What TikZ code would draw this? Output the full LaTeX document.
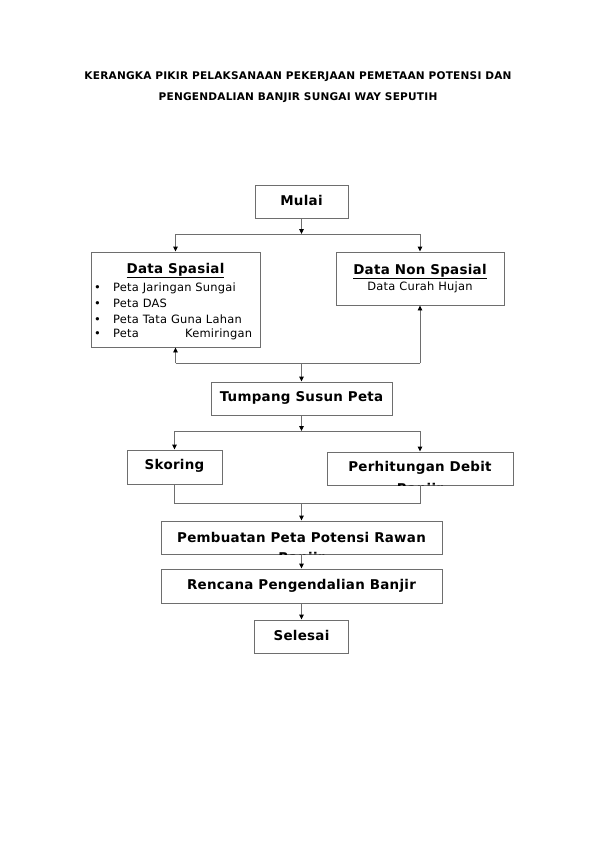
\documentclass[tikz,border=0pt]{standalone}
\usepackage{fontspec}
\setmainfont{DejaVu Sans}[LetterSpace=2]
\usetikzlibrary{arrows.meta}
\definecolor{ln}{RGB}{110,110,110}
\begin{document}
\begin{tikzpicture}[x=1bp,y=-1bp,
  box/.style={draw=ln, line width=0.9bp, inner sep=0pt, fill=white},
  conn/.style={draw=ln, line width=0.9bp},
  arr/.style={conn, -{Triangle[length=5bp,width=4.5bp,color=black]}},
  head/.style={font=\bfseries\fontsize{13.5}{15}\selectfont, inner sep=0pt},
  body/.style={font=\fontsize{11.5}{13}\selectfont, inner sep=0pt},
  ttl/.style={font=\bfseries\fontsize{10.6}{21}\selectfont, inner sep=0pt, align=center}]
\useasboundingbox (0,0) rectangle (595,842);
\fill[white] (0,0) rectangle (595,842);

\node[ttl] (title) at (298,87.5) {KERANGKA PIKIR PELAKSANAAN PEKERJAAN PEMETAAN POTENSI DAN\\PENGENDALIAN BANJIR SUNGAI WAY SEPUTIH};

% boxes
\node[box, minimum width=93bp, minimum height=33bp] (mulai) at (301.5,201.5) {};
\node[head] (tmulai) at (301.5,200) {Mulai};

\node[box, minimum width=169bp, minimum height=95bp] (spasial) at (175.5,299.5) {};
\node[head] (tspasial) at (175.5,270.5) {\underline{Data Spasial}};
\node[body, anchor=west] (s1) at (94,288) {\makebox[19bp][l]{•}Peta Jaringan Sungai};
\node[body, anchor=west] (s2) at (94,303) {\makebox[19bp][l]{•}Peta DAS};
\node[body, anchor=west] (s3) at (94,319) {\makebox[19bp][l]{•}Peta Tata Guna Lahan};
\node[body, anchor=west] (s4) at (94,334) {\makebox[19bp][l]{•}\makebox[139bp][s]{Peta\hfill Kemiringan}};

\node[box, minimum width=168bp, minimum height=53bp] (nonsp) at (420,278.5) {};
\node[head] (tnonsp) at (420,271.5) {\underline{Data Non Spasial}};
\node[body] (n1) at (420,287) {Data Curah Hujan};

\node[box, minimum width=181bp, minimum height=33bp] (tumpang) at (301.5,398.5) {};
\node[head] (ttumpang) at (301.5,398) {Tumpang Susun Peta};

\node[box, minimum width=95bp, minimum height=34bp] (skoring) at (174.5,467) {};
\node[head] (tskoring) at (174.5,466) {Skoring};

\node[box, minimum width=186bp, minimum height=33bp] (perhit) at (420,468.5) {};
\begin{scope}
  \clip (perhit.south west) rectangle (perhit.north east);
  \node[head] (tperhit1) at (420,467.5) {Perhitungan Debit};
  \node[head] (tperhit2) at (420,489.5) {Banjir};
\end{scope}

\node[box, minimum width=281bp, minimum height=33bp] (pembuatan) at (301.5,537.5) {};
\begin{scope}
  \clip (pembuatan.south west) rectangle (pembuatan.north east);
  \node[head] (tpemb1) at (301.5,537) {Pembuatan Peta Potensi Rawan};
  \node[head] (tpemb2) at (301.5,558.5) {Banjir};
\end{scope}

\node[box, minimum width=281bp, minimum height=34bp] (rencana) at (301.5,586) {};
\node[head] (trencana) at (301.5,586) {Rencana Pengendalian Banjir};

\node[box, minimum width=94bp, minimum height=33bp] (selesai) at (301.5,636.5) {};
\node[head] (tselesai) at (301.5,635.5) {Selesai};

% junctions
\coordinate (j1m) at (301.5,234);
\coordinate (j1l) at (175.5,234);
\coordinate (j1r) at (420,234);
\coordinate (j2m) at (301.5,363);
\coordinate (j2l) at (175.5,363);
\coordinate (j2r) at (420,363);
\coordinate (j3m) at (301.5,431);
\coordinate (j3l) at (174.5,431);
\coordinate (j3r) at (420,431);
\coordinate (j4m) at (301.5,503);
\coordinate (j4l) at (174.5,503);
\coordinate (j4r) at (420,503);

% connectors
\draw[arr] (mulai.south) -- (j1m);
\draw[conn] (j1l) -- (j1r);
\draw[arr] (j1l) -- (spasial.north);
\draw[arr] (j1r) -- (nonsp.north);

\draw[conn] (j2l) -- (j2r);
\draw[arr] (j2l) -- (spasial.south);
\draw[arr] (j2r) -- (nonsp.south);
\draw[arr] (j2m) -- (tumpang.north);

\draw[arr] (tumpang.south) -- (j3m);
\draw[conn] (j3l) -- (j3r);
\draw[arr] (j3l) -- (skoring.north);
\draw[arr] (j3r) -- (perhit.north);

\draw[conn] (skoring.south) -- (j4l) -- (j4r) -- (perhit.south);
\draw[arr] (j4m) -- (pembuatan.north);
\draw[arr] (pembuatan.south) -- (rencana.north);
\draw[arr] (rencana.south) -- (selesai.north);
\end{tikzpicture}
\end{document}
